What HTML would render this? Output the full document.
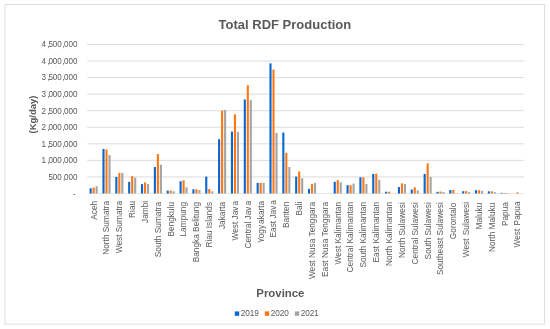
<!DOCTYPE html><html><head><meta charset="utf-8"><style>html,body{margin:0;padding:0;background:#fff;}svg{display:block;} text{font-family:"Liberation Sans",Arial,sans-serif;}</style></head><body>
<svg width="550" height="329" viewBox="0 0 550 329">
<rect x="0" y="0" width="550" height="329" fill="#fff"/>
<rect x="4.9" y="4.5" width="539.7" height="319.6" fill="none" stroke="#DEDEDE" stroke-width="1"/>
<text x="284.9" y="28.7" text-anchor="middle" font-size="13.0" font-weight="bold" fill="#595959">Total RDF Production</text>
<line x1="87.23" x2="523.99" y1="193.50" y2="193.50" stroke="#E6E6E6" stroke-width="1"/>
<line x1="87.23" x2="523.99" y1="176.94" y2="176.94" stroke="#DCDCDC" stroke-width="1"/>
<line x1="87.23" x2="523.99" y1="160.39" y2="160.39" stroke="#DCDCDC" stroke-width="1"/>
<line x1="87.23" x2="523.99" y1="143.84" y2="143.84" stroke="#DCDCDC" stroke-width="1"/>
<line x1="87.23" x2="523.99" y1="127.28" y2="127.28" stroke="#DCDCDC" stroke-width="1"/>
<line x1="87.23" x2="523.99" y1="110.72" y2="110.72" stroke="#DCDCDC" stroke-width="1"/>
<line x1="87.23" x2="523.99" y1="94.17" y2="94.17" stroke="#DCDCDC" stroke-width="1"/>
<line x1="87.23" x2="523.99" y1="77.62" y2="77.62" stroke="#DCDCDC" stroke-width="1"/>
<line x1="87.23" x2="523.99" y1="61.06" y2="61.06" stroke="#DCDCDC" stroke-width="1"/>
<line x1="87.23" x2="523.99" y1="44.50" y2="44.50" stroke="#DCDCDC" stroke-width="1"/>
<text transform="translate(75.8,197.30) scale(0.93,1)" text-anchor="end" font-size="8.7" fill="#595959">-</text>
<text transform="translate(77.6,179.75) scale(0.93,1)" text-anchor="end" font-size="8.7" fill="#595959">500<tspan dx="1.2">,</tspan><tspan dx="-1.2">000</tspan></text>
<text transform="translate(77.6,163.19) scale(0.93,1)" text-anchor="end" font-size="8.7" fill="#595959">1<tspan dx="1.2">,</tspan><tspan dx="-1.2">000</tspan><tspan dx="0.5">,</tspan><tspan dx="-0.5">000</tspan></text>
<text transform="translate(77.6,146.64) scale(0.93,1)" text-anchor="end" font-size="8.7" fill="#595959">1<tspan dx="1.2">,</tspan><tspan dx="-1.2">500</tspan><tspan dx="0.5">,</tspan><tspan dx="-0.5">000</tspan></text>
<text transform="translate(77.6,130.08) scale(0.93,1)" text-anchor="end" font-size="8.7" fill="#595959">2<tspan dx="1.2">,</tspan><tspan dx="-1.2">000</tspan><tspan dx="0.5">,</tspan><tspan dx="-0.5">000</tspan></text>
<text transform="translate(77.6,113.52) scale(0.93,1)" text-anchor="end" font-size="8.7" fill="#595959">2<tspan dx="1.2">,</tspan><tspan dx="-1.2">500</tspan><tspan dx="0.5">,</tspan><tspan dx="-0.5">000</tspan></text>
<text transform="translate(77.6,96.97) scale(0.93,1)" text-anchor="end" font-size="8.7" fill="#595959">3<tspan dx="1.2">,</tspan><tspan dx="-1.2">000</tspan><tspan dx="0.5">,</tspan><tspan dx="-0.5">000</tspan></text>
<text transform="translate(77.6,80.42) scale(0.93,1)" text-anchor="end" font-size="8.7" fill="#595959">3<tspan dx="1.2">,</tspan><tspan dx="-1.2">500</tspan><tspan dx="0.5">,</tspan><tspan dx="-0.5">000</tspan></text>
<text transform="translate(77.6,63.86) scale(0.93,1)" text-anchor="end" font-size="8.7" fill="#595959">4<tspan dx="1.2">,</tspan><tspan dx="-1.2">000</tspan><tspan dx="0.5">,</tspan><tspan dx="-0.5">000</tspan></text>
<text transform="translate(77.6,47.30) scale(0.93,1)" text-anchor="end" font-size="8.7" fill="#595959">4<tspan dx="1.2">,</tspan><tspan dx="-1.2">500</tspan><tspan dx="0.5">,</tspan><tspan dx="-0.5">000</tspan></text>
<rect x="89.60" y="188.30" width="2.1" height="5.20" fill="#0A66CC"/>
<rect x="92.60" y="187.54" width="2.1" height="5.96" fill="#FF7614"/>
<rect x="95.60" y="186.22" width="2.1" height="7.28" fill="#A3A4A7"/>
<rect x="102.45" y="148.97" width="2.1" height="44.53" fill="#0A66CC"/>
<rect x="105.45" y="149.46" width="2.1" height="44.04" fill="#FF7614"/>
<rect x="108.45" y="155.09" width="2.1" height="38.41" fill="#A3A4A7"/>
<rect x="115.30" y="176.94" width="2.1" height="16.55" fill="#0A66CC"/>
<rect x="118.30" y="172.97" width="2.1" height="20.53" fill="#FF7614"/>
<rect x="121.30" y="172.97" width="2.1" height="20.53" fill="#A3A4A7"/>
<rect x="128.14" y="181.91" width="2.1" height="11.59" fill="#0A66CC"/>
<rect x="131.14" y="176.08" width="2.1" height="17.42" fill="#FF7614"/>
<rect x="134.14" y="177.61" width="2.1" height="15.89" fill="#A3A4A7"/>
<rect x="140.99" y="184.10" width="2.1" height="9.40" fill="#0A66CC"/>
<rect x="143.99" y="182.38" width="2.1" height="11.12" fill="#FF7614"/>
<rect x="146.99" y="184.10" width="2.1" height="9.40" fill="#A3A4A7"/>
<rect x="153.83" y="167.01" width="2.1" height="26.49" fill="#0A66CC"/>
<rect x="156.83" y="154.10" width="2.1" height="39.40" fill="#FF7614"/>
<rect x="159.83" y="164.69" width="2.1" height="28.81" fill="#A3A4A7"/>
<rect x="166.68" y="190.59" width="2.1" height="2.91" fill="#0A66CC"/>
<rect x="169.68" y="190.59" width="2.1" height="2.91" fill="#FF7614"/>
<rect x="172.68" y="191.28" width="2.1" height="2.22" fill="#A3A4A7"/>
<rect x="179.52" y="181.25" width="2.1" height="12.25" fill="#0A66CC"/>
<rect x="182.52" y="180.26" width="2.1" height="13.24" fill="#FF7614"/>
<rect x="185.52" y="187.21" width="2.1" height="6.29" fill="#A3A4A7"/>
<rect x="192.37" y="189.30" width="2.1" height="4.20" fill="#0A66CC"/>
<rect x="195.37" y="189.30" width="2.1" height="4.20" fill="#FF7614"/>
<rect x="198.37" y="189.99" width="2.1" height="3.51" fill="#A3A4A7"/>
<rect x="205.22" y="176.61" width="2.1" height="16.89" fill="#0A66CC"/>
<rect x="208.22" y="189.03" width="2.1" height="4.47" fill="#FF7614"/>
<rect x="211.22" y="191.35" width="2.1" height="2.15" fill="#A3A4A7"/>
<rect x="218.06" y="139.20" width="2.1" height="54.30" fill="#0A66CC"/>
<rect x="221.06" y="110.72" width="2.1" height="82.78" fill="#FF7614"/>
<rect x="224.06" y="110.06" width="2.1" height="83.44" fill="#A3A4A7"/>
<rect x="230.91" y="131.58" width="2.1" height="61.92" fill="#0A66CC"/>
<rect x="233.91" y="114.37" width="2.1" height="79.13" fill="#FF7614"/>
<rect x="236.91" y="131.92" width="2.1" height="61.58" fill="#A3A4A7"/>
<rect x="243.75" y="99.47" width="2.1" height="94.03" fill="#0A66CC"/>
<rect x="246.75" y="85.23" width="2.1" height="108.27" fill="#FF7614"/>
<rect x="249.75" y="100.13" width="2.1" height="93.37" fill="#A3A4A7"/>
<rect x="256.60" y="182.90" width="2.1" height="10.60" fill="#0A66CC"/>
<rect x="259.60" y="182.90" width="2.1" height="10.60" fill="#FF7614"/>
<rect x="262.60" y="182.90" width="2.1" height="10.60" fill="#A3A4A7"/>
<rect x="269.45" y="63.38" width="2.1" height="130.12" fill="#0A66CC"/>
<rect x="272.45" y="69.67" width="2.1" height="123.83" fill="#FF7614"/>
<rect x="275.45" y="132.91" width="2.1" height="60.59" fill="#A3A4A7"/>
<rect x="282.29" y="132.58" width="2.1" height="60.92" fill="#0A66CC"/>
<rect x="285.29" y="152.77" width="2.1" height="40.73" fill="#FF7614"/>
<rect x="288.29" y="167.01" width="2.1" height="26.49" fill="#A3A4A7"/>
<rect x="295.14" y="176.61" width="2.1" height="16.89" fill="#0A66CC"/>
<rect x="298.14" y="171.48" width="2.1" height="22.02" fill="#FF7614"/>
<rect x="301.14" y="178.27" width="2.1" height="15.23" fill="#A3A4A7"/>
<rect x="307.99" y="188.86" width="2.1" height="4.64" fill="#0A66CC"/>
<rect x="310.99" y="183.90" width="2.1" height="9.60" fill="#FF7614"/>
<rect x="313.99" y="182.90" width="2.1" height="10.60" fill="#A3A4A7"/>
<rect x="333.68" y="181.78" width="2.1" height="11.72" fill="#0A66CC"/>
<rect x="336.68" y="180.09" width="2.1" height="13.41" fill="#FF7614"/>
<rect x="339.68" y="182.38" width="2.1" height="11.12" fill="#A3A4A7"/>
<rect x="346.52" y="185.22" width="2.1" height="8.28" fill="#0A66CC"/>
<rect x="349.52" y="185.22" width="2.1" height="8.28" fill="#FF7614"/>
<rect x="352.52" y="183.57" width="2.1" height="9.93" fill="#A3A4A7"/>
<rect x="359.37" y="177.28" width="2.1" height="16.22" fill="#0A66CC"/>
<rect x="362.37" y="177.28" width="2.1" height="16.22" fill="#FF7614"/>
<rect x="365.37" y="184.10" width="2.1" height="9.40" fill="#A3A4A7"/>
<rect x="372.22" y="173.97" width="2.1" height="19.53" fill="#0A66CC"/>
<rect x="375.22" y="173.63" width="2.1" height="19.87" fill="#FF7614"/>
<rect x="378.22" y="179.69" width="2.1" height="13.81" fill="#A3A4A7"/>
<rect x="385.06" y="191.71" width="2.1" height="1.79" fill="#0A66CC"/>
<rect x="388.06" y="191.71" width="2.1" height="1.79" fill="#FF7614"/>
<rect x="397.91" y="187.08" width="2.1" height="6.42" fill="#0A66CC"/>
<rect x="400.91" y="183.40" width="2.1" height="10.10" fill="#FF7614"/>
<rect x="403.91" y="184.00" width="2.1" height="9.50" fill="#A3A4A7"/>
<rect x="410.75" y="189.53" width="2.1" height="3.97" fill="#0A66CC"/>
<rect x="413.75" y="187.31" width="2.1" height="6.19" fill="#FF7614"/>
<rect x="416.75" y="190.39" width="2.1" height="3.11" fill="#A3A4A7"/>
<rect x="423.60" y="173.87" width="2.1" height="19.63" fill="#0A66CC"/>
<rect x="426.60" y="163.37" width="2.1" height="30.13" fill="#FF7614"/>
<rect x="429.60" y="176.94" width="2.1" height="16.55" fill="#A3A4A7"/>
<rect x="436.44" y="191.84" width="2.1" height="1.66" fill="#0A66CC"/>
<rect x="439.44" y="191.51" width="2.1" height="1.99" fill="#FF7614"/>
<rect x="442.44" y="192.01" width="2.1" height="1.49" fill="#A3A4A7"/>
<rect x="449.29" y="189.99" width="2.1" height="3.51" fill="#0A66CC"/>
<rect x="452.29" y="189.99" width="2.1" height="3.51" fill="#FF7614"/>
<rect x="455.29" y="193.17" width="2.1" height="0.33" fill="#A3A4A7"/>
<rect x="462.14" y="191.18" width="2.1" height="2.32" fill="#0A66CC"/>
<rect x="465.14" y="191.08" width="2.1" height="2.42" fill="#FF7614"/>
<rect x="468.14" y="192.01" width="2.1" height="1.49" fill="#A3A4A7"/>
<rect x="474.98" y="190.19" width="2.1" height="3.31" fill="#0A66CC"/>
<rect x="477.98" y="190.19" width="2.1" height="3.31" fill="#FF7614"/>
<rect x="480.98" y="190.85" width="2.1" height="2.65" fill="#A3A4A7"/>
<rect x="487.83" y="191.31" width="2.1" height="2.19" fill="#0A66CC"/>
<rect x="490.83" y="191.31" width="2.1" height="2.19" fill="#FF7614"/>
<rect x="493.83" y="192.18" width="2.1" height="1.32" fill="#A3A4A7"/>
<rect x="500.68" y="192.84" width="2.1" height="0.66" fill="#0A66CC"/>
<rect x="503.68" y="193.00" width="2.1" height="0.50" fill="#FF7614"/>
<rect x="506.68" y="193.00" width="2.1" height="0.50" fill="#A3A4A7"/>
<rect x="516.52" y="192.34" width="2.1" height="1.16" fill="#FF7614"/>
<text transform="translate(96.56,200.80) rotate(-90)" x="0" y="0" text-anchor="end" font-size="8.3" fill="#595959">Aceh</text>
<text transform="translate(109.40,200.80) rotate(-90)" x="0" y="0" text-anchor="end" font-size="8.3" fill="#595959">North Sumatra</text>
<text transform="translate(122.25,200.80) rotate(-90)" x="0" y="0" text-anchor="end" font-size="8.3" fill="#595959">West Sumatra</text>
<text transform="translate(135.10,200.80) rotate(-90)" x="0" y="0" text-anchor="end" font-size="8.3" fill="#595959">Riau</text>
<text transform="translate(147.94,200.80) rotate(-90)" x="0" y="0" text-anchor="end" font-size="8.3" fill="#595959">Jambi</text>
<text transform="translate(160.79,201.90) rotate(-90)" x="0" y="0" text-anchor="end" font-size="8.3" fill="#595959">South Sumatra</text>
<text transform="translate(173.63,201.90) rotate(-90)" x="0" y="0" text-anchor="end" font-size="8.3" fill="#595959">Bengkulu</text>
<text transform="translate(186.48,201.90) rotate(-90)" x="0" y="0" text-anchor="end" font-size="8.3" fill="#595959">Lampung</text>
<text transform="translate(199.33,201.90) rotate(-90)" x="0" y="0" text-anchor="end" font-size="8.3" fill="#595959">Bangka Belitung</text>
<text transform="translate(212.17,201.90) rotate(-90)" x="0" y="0" text-anchor="end" font-size="8.3" fill="#595959">Riau Islands</text>
<text transform="translate(225.02,201.90) rotate(-90)" x="0" y="0" text-anchor="end" font-size="8.3" fill="#595959">Jakarta</text>
<text transform="translate(237.86,200.90) rotate(-90)" x="0" y="0" text-anchor="end" font-size="8.3" fill="#595959">West Jav<tspan dx="1.0">a</tspan></text>
<text transform="translate(250.71,200.90) rotate(-90)" x="0" y="0" text-anchor="end" font-size="8.3" fill="#595959">Central Jav<tspan dx="1.0">a</tspan></text>
<text transform="translate(263.56,200.80) rotate(-90)" x="0" y="0" text-anchor="end" font-size="8.3" fill="#595959">Yogy<tspan dx="1.0">a</tspan>karta</text>
<text transform="translate(276.40,200.00) rotate(-90)" x="0" y="0" text-anchor="end" font-size="8.3" fill="#595959">East Jav<tspan dx="1.0">a</tspan></text>
<text transform="translate(289.25,201.70) rotate(-90)" x="0" y="0" text-anchor="end" font-size="8.3" fill="#595959">Banten</text>
<text transform="translate(302.09,201.70) rotate(-90)" x="0" y="0" text-anchor="end" font-size="8.3" fill="#595959">Bali</text>
<text transform="translate(314.94,201.90) rotate(-90)" x="0" y="0" text-anchor="end" font-size="8.3" fill="#595959">West Nusa Tenggara</text>
<text transform="translate(327.79,201.90) rotate(-90)" x="0" y="0" text-anchor="end" font-size="8.3" fill="#595959">East Nusa Tenggara</text>
<text transform="translate(340.63,201.90) rotate(-90)" x="0" y="0" text-anchor="end" font-size="8.3" fill="#595959">West Kalimantan</text>
<text transform="translate(353.48,201.90) rotate(-90)" x="0" y="0" text-anchor="end" font-size="8.3" fill="#595959">Central Kalimantan</text>
<text transform="translate(366.32,202.00) rotate(-90)" x="0" y="0" text-anchor="end" font-size="8.3" fill="#595959">South Kalimantan</text>
<text transform="translate(379.17,202.00) rotate(-90)" x="0" y="0" text-anchor="end" font-size="8.3" fill="#595959">East Kalimantan</text>
<text transform="translate(392.02,202.00) rotate(-90)" x="0" y="0" text-anchor="end" font-size="8.3" fill="#595959">North Kalimantan</text>
<text transform="translate(404.86,202.20) rotate(-90)" x="0" y="0" text-anchor="end" font-size="8.3" fill="#595959">North Sulawesi</text>
<text transform="translate(417.71,202.20) rotate(-90)" x="0" y="0" text-anchor="end" font-size="8.3" fill="#595959">Central Sulawesi</text>
<text transform="translate(430.55,202.20) rotate(-90)" x="0" y="0" text-anchor="end" font-size="8.3" fill="#595959">South Sulawesi</text>
<text transform="translate(443.40,202.20) rotate(-90)" x="0" y="0" text-anchor="end" font-size="8.3" fill="#595959">Southeast Sulawesi</text>
<text transform="translate(456.25,202.70) rotate(-90)" x="0" y="0" text-anchor="end" font-size="8.3" fill="#595959">Gorontalo</text>
<text transform="translate(469.09,202.00) rotate(-90)" x="0" y="0" text-anchor="end" font-size="8.3" fill="#595959">West <tspan dx="1.0">Sulawesi</tspan></text>
<text transform="translate(481.94,202.70) rotate(-90)" x="0" y="0" text-anchor="end" font-size="8.3" fill="#595959">Maluku</text>
<text transform="translate(494.78,202.70) rotate(-90)" x="0" y="0" text-anchor="end" font-size="8.3" fill="#595959">North Maluku</text>
<text transform="translate(507.63,202.10) rotate(-90)" x="0" y="0" text-anchor="end" font-size="8.3" fill="#595959">Papua</text>
<text transform="translate(520.48,201.40) rotate(-90)" x="0" y="0" text-anchor="end" font-size="8.3" fill="#595959">West <tspan dx="1.0">Papua</tspan></text>
<text transform="translate(36.3,114.5) rotate(-90)" text-anchor="middle" font-size="9.5" font-weight="bold" fill="#595959">(Kg/day)</text>
<text x="280.4" y="297.3" text-anchor="middle" font-size="11.4" font-weight="bold" fill="#595959">Province</text>
<rect x="234.8" y="311.4" width="4.4" height="4.4" fill="#0A66CC"/>
<text x="240.7" y="315.7" font-size="8.2" fill="#595959">2019</text>
<rect x="264.8" y="311.4" width="4.4" height="4.4" fill="#FF7614"/>
<text x="270.7" y="315.7" font-size="8.2" fill="#595959">2020</text>
<rect x="294.8" y="311.4" width="4.4" height="4.4" fill="#A3A4A7"/>
<text x="300.7" y="315.7" font-size="8.2" fill="#595959">2021</text>
</svg></body></html>
